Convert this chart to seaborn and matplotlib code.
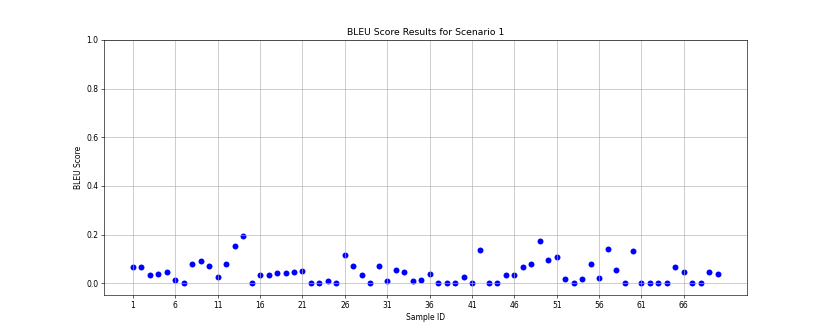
import numpy as np
import pandas as pd
import matplotlib
matplotlib.use("Agg")
import matplotlib.pyplot as plt
import seaborn as sns

# BLEU scores (70 échantillons)
sample_ids = list(range(1, 71))
bleu_scores = [
    0.065, 0.068, 0.033, 0.037, 0.048, 0.012, 0.0, 0.080, 0.090, 0.072,
    0.025, 0.080, 0.153, 0.193, 0.0, 0.036, 0.033, 0.043, 0.042, 0.048,
    0.050, 0.0, 0.0, 0.010, 0.0, 0.118, 0.073, 0.035, 0.0, 0.071,
    0.008, 0.055, 0.047, 0.008, 0.012, 0.040, 0.0, 0.0, 0.0, 0.027,
    0.0, 0.135, 0.0, 0.0, 0.033, 0.033, 0.065, 0.079, 0.172, 0.097,
    0.110, 0.018, 0.0, 0.018, 0.078, 0.022, 0.140, 0.055, 0.0, 0.132,
    0.0, 0.0, 0.0, 0.0, 0.068, 0.045, 0.0, 0.0, 0.045, 0.040,
]
x_ticks = list(range(1, 71, 5))

df = pd.DataFrame({"Sample ID": sample_ids, "BLEU Score": bleu_scores})

fig = plt.figure(figsize=(15, 6), dpi=830 / 15)
ax = sns.scatterplot(data=df, x="Sample ID", y="BLEU Score", color="blue",
                     s=60, linewidth=0)
ax.set_title("BLEU Score Results for Scenario 1")
ax.set_xlabel("Sample ID")
ax.set_ylabel("BLEU Score")
ax.set_xticks(x_ticks)
ax.set_ylim(-0.05, 1.0)
ax.grid(True)

fig.savefig("out.png", dpi=830 / 15)
